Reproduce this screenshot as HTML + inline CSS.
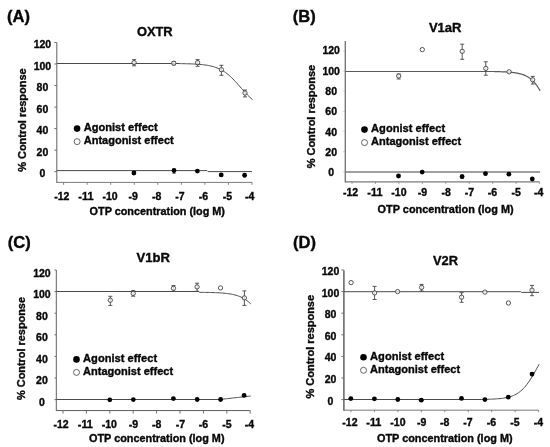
<!DOCTYPE html>
<html><head><meta charset="utf-8"><title>OTP concentration response</title>
<style>
html,body{margin:0;padding:0;background:#fff}
svg{display:block}
text{font-family:"Liberation Sans",Arial,sans-serif;font-weight:bold;fill:#0a0a0a;stroke:#000;stroke-width:0.35px}
.t{font-size:10.7px}
.a{font-size:10.9px}
.y{font-size:10.85px}
.l{font-size:11.1px}
.h{font-size:13px}
.p{font-size:16.2px}
svg{filter:blur(0.35px)}
</style></head><body>
<svg width="550" height="447" viewBox="0 0 550 447">
<rect width="550" height="447" fill="#fff"/>
<path d="M56.80 42.50V182.88" fill="none" stroke="#6e6e6e" stroke-width="1.1"/>
<path d="M56.80 182.40H252.00" fill="none" stroke="#747474" stroke-width="0.95"/>
<path d="M54.30 171.70H56.80M54.30 150.16H56.80M54.30 128.62H56.80M54.30 107.08H56.80M54.30 85.54H56.80M54.30 64.00H56.80M54.30 42.46H56.80" stroke="#6e6e6e" stroke-width="1" opacity="1"/>
<path d="M63.60 182.40v2.4M87.15 182.40v2.4M110.70 182.40v2.4M134.25 182.40v2.4M157.80 182.40v2.4M181.35 182.40v2.4M204.90 182.40v2.4M228.45 182.40v2.4M252.00 182.40v2.4" stroke="#6e6e6e" stroke-width="1" opacity="0.85"/>
<text x="42.40" y="177.35" text-anchor="middle" class="t" textLength="5.85" lengthAdjust="spacingAndGlyphs">0</text>
<text x="42.40" y="155.82" text-anchor="middle" class="t" textLength="11.70" lengthAdjust="spacingAndGlyphs">20</text>
<text x="42.40" y="134.28" text-anchor="middle" class="t" textLength="11.70" lengthAdjust="spacingAndGlyphs">40</text>
<text x="42.40" y="112.75" text-anchor="middle" class="t" textLength="11.70" lengthAdjust="spacingAndGlyphs">60</text>
<text x="42.40" y="91.22" text-anchor="middle" class="t" textLength="11.70" lengthAdjust="spacingAndGlyphs">80</text>
<text x="42.40" y="69.68" text-anchor="middle" class="t" textLength="17.55" lengthAdjust="spacingAndGlyphs">100</text>
<text x="42.40" y="48.15" text-anchor="middle" class="t" textLength="17.55" lengthAdjust="spacingAndGlyphs">120</text>
<text x="61.80" y="199.80" text-anchor="middle" class="t" textLength="15.21" lengthAdjust="spacingAndGlyphs">-12</text>
<text x="85.95" y="199.80" text-anchor="middle" class="t" textLength="15.21" lengthAdjust="spacingAndGlyphs">-11</text>
<text x="110.00" y="199.80" text-anchor="middle" class="t" textLength="15.21" lengthAdjust="spacingAndGlyphs">-10</text>
<text x="133.15" y="199.80" text-anchor="middle" class="t" textLength="9.36" lengthAdjust="spacingAndGlyphs">-9</text>
<text x="156.60" y="199.80" text-anchor="middle" class="t" textLength="9.36" lengthAdjust="spacingAndGlyphs">-8</text>
<text x="180.05" y="199.80" text-anchor="middle" class="t" textLength="9.36" lengthAdjust="spacingAndGlyphs">-7</text>
<text x="203.50" y="199.80" text-anchor="middle" class="t" textLength="9.36" lengthAdjust="spacingAndGlyphs">-6</text>
<text x="227.45" y="199.80" text-anchor="middle" class="t" textLength="9.36" lengthAdjust="spacingAndGlyphs">-5</text>
<text x="249.60" y="199.80" text-anchor="middle" class="t" textLength="9.36" lengthAdjust="spacingAndGlyphs">-4</text>
<text x="89.60" y="214.50" class="a" textLength="135.4" lengthAdjust="spacingAndGlyphs">OTP concentration (log M)</text>
<text transform="translate(26.00 171.80) rotate(-90)" class="y" textLength="103.4" lengthAdjust="spacingAndGlyphs">% Control response</text>
<text x="7.00" y="21.80" class="p" textLength="23" lengthAdjust="spacingAndGlyphs">(A)</text>
<text x="154.80" y="36.40" text-anchor="middle" class="h" textLength="35.8" lengthAdjust="spacingAndGlyphs">OXTR</text>
<circle cx="77.10" cy="128.60" r="3.3" fill="#000"/>
<circle cx="77.10" cy="141.60" r="3" fill="#fff" stroke="#555" stroke-width="0.9"/>
<text x="83.70" y="131.10" class="l" textLength="74" lengthAdjust="spacingAndGlyphs">Agonist effect</text>
<text x="83.70" y="144.10" class="l" textLength="90" lengthAdjust="spacingAndGlyphs">Antagonist effect</text>
<path d="M56.80 63.50 L179.11 63.50 L180.34 63.63 L181.56 63.65 L182.78 63.67 L184.00 63.69 L185.23 63.72 L186.45 63.74 L187.67 63.77 L188.90 63.81 L190.12 63.85 L191.34 63.89 L192.57 63.94 L193.79 64.00 L195.01 64.06 L196.24 64.13 L197.46 64.21 L198.68 64.29 L199.91 64.39 L201.13 64.51 L202.35 64.63 L203.57 64.77 L204.80 64.93 L206.02 65.10 L207.24 65.30 L208.47 65.51 L209.69 65.76 L210.91 66.03 L212.14 66.33 L213.36 66.67 L214.58 67.04 L215.81 67.45 L217.03 67.91 L218.25 68.41 L219.48 68.96 L220.70 69.56 L221.92 70.22 L223.14 70.94 L224.37 71.72 L225.59 72.56 L226.81 73.47 L228.04 74.44 L229.26 75.47 L230.48 76.57 L231.71 77.73 L232.93 78.94 L234.15 80.21 L235.38 81.52 L236.60 82.86 L237.82 84.23 L239.05 85.63 L240.27 87.03 L241.49 88.43 L242.71 89.82 L243.94 91.19 L245.16 92.54 L246.38 93.84 L247.61 95.10 L248.83 96.31 L250.05 97.47 L251.28 98.56 L252.50 99.59" fill="none" stroke="#4a4a4a" stroke-width="1" stroke-linejoin="round"/>
<path d="M56.70 170.60 L207.00 170.60 L208.00 171.60 L252.00 171.60" fill="none" stroke="#4a4a4a" stroke-width="1" stroke-linejoin="round"/>
<path d="M134.10 59.60V65.80M132.10 59.60h4M132.10 65.80h4" fill="none" stroke="#454545" stroke-width="0.9"/>
<circle cx="134.10" cy="62.60" r="2.15" fill="#fff" fill-opacity="0.75" stroke="#444" stroke-width="0.9"/>
<path d="M173.80 61.60V64.80M171.80 61.60h4M171.80 64.80h4" fill="none" stroke="#454545" stroke-width="0.9"/>
<circle cx="173.80" cy="63.20" r="2.15" fill="#fff" fill-opacity="0.75" stroke="#444" stroke-width="0.9"/>
<path d="M197.60 59.60V66.30M195.60 59.60h4M195.60 66.30h4" fill="none" stroke="#454545" stroke-width="0.9"/>
<circle cx="197.60" cy="62.60" r="2.15" fill="#fff" fill-opacity="0.75" stroke="#444" stroke-width="0.9"/>
<path d="M221.40 65.30V75.30M219.40 65.30h4M219.40 75.30h4" fill="none" stroke="#454545" stroke-width="0.9"/>
<circle cx="221.40" cy="69.70" r="2.15" fill="#fff" fill-opacity="0.75" stroke="#444" stroke-width="0.9"/>
<path d="M245.00 90.00V96.90M243.00 90.00h4M243.00 96.90h4" fill="none" stroke="#454545" stroke-width="0.9"/>
<circle cx="245.00" cy="93.00" r="2.15" fill="#fff" fill-opacity="0.75" stroke="#444" stroke-width="0.9"/>
<path d="M133.90 171.50V174.50M132.30 171.50h3.2M132.30 174.50h3.2" fill="none" stroke="#111" stroke-width="0.8"/>
<circle cx="133.90" cy="173.00" r="2.4" fill="#000"/>
<path d="M174.00 169.60V173.20M172.40 169.60h3.2M172.40 173.20h3.2" fill="none" stroke="#111" stroke-width="0.8"/>
<circle cx="174.00" cy="170.50" r="2.4" fill="#000"/>
<circle cx="197.40" cy="171.10" r="2.4" fill="#000"/>
<circle cx="221.20" cy="174.90" r="2.4" fill="#000"/>
<path d="M244.60 173.50V177.00M243.00 173.50h3.2M243.00 177.00h3.2" fill="none" stroke="#111" stroke-width="0.8"/>
<circle cx="244.60" cy="175.20" r="2.4" fill="#000"/>
<path d="M345.30 41.00V182.60" fill="none" stroke="#7a7a7a" stroke-width="1.4"/>
<path d="M345.30 181.90H539.60" fill="none" stroke="#7a7a7a" stroke-width="1.4"/>
<path d="M342.80 171.70H345.30M342.80 151.59H345.30M342.80 131.48H345.30M342.80 111.37H345.30M342.80 91.26H345.30M342.80 71.15H345.30M342.80 51.04H345.30" stroke="#6e6e6e" stroke-width="1" opacity="0.25"/>
<path d="M352.00 181.90v2.2M375.45 181.90v2.2M398.90 181.90v2.2M422.35 181.90v2.2M445.80 181.90v2.2M469.25 181.90v2.2M492.70 181.90v2.2M516.15 181.90v2.2M539.60 181.90v2.2" stroke="#6e6e6e" stroke-width="1" opacity="0.6"/>
<text x="331.20" y="176.05" text-anchor="middle" class="t" textLength="5.85" lengthAdjust="spacingAndGlyphs">0</text>
<text x="331.20" y="155.78" text-anchor="middle" class="t" textLength="11.70" lengthAdjust="spacingAndGlyphs">20</text>
<text x="331.20" y="135.52" text-anchor="middle" class="t" textLength="11.70" lengthAdjust="spacingAndGlyphs">40</text>
<text x="331.20" y="115.25" text-anchor="middle" class="t" textLength="11.70" lengthAdjust="spacingAndGlyphs">60</text>
<text x="331.20" y="94.98" text-anchor="middle" class="t" textLength="11.70" lengthAdjust="spacingAndGlyphs">80</text>
<text x="331.20" y="74.72" text-anchor="middle" class="t" textLength="17.55" lengthAdjust="spacingAndGlyphs">100</text>
<text x="331.20" y="54.45" text-anchor="middle" class="t" textLength="17.55" lengthAdjust="spacingAndGlyphs">120</text>
<text x="350.60" y="195.90" text-anchor="middle" class="t" textLength="15.21" lengthAdjust="spacingAndGlyphs">-12</text>
<text x="374.95" y="195.90" text-anchor="middle" class="t" textLength="15.21" lengthAdjust="spacingAndGlyphs">-11</text>
<text x="398.90" y="195.90" text-anchor="middle" class="t" textLength="15.21" lengthAdjust="spacingAndGlyphs">-10</text>
<text x="422.35" y="195.90" text-anchor="middle" class="t" textLength="9.36" lengthAdjust="spacingAndGlyphs">-9</text>
<text x="446.20" y="195.90" text-anchor="middle" class="t" textLength="9.36" lengthAdjust="spacingAndGlyphs">-8</text>
<text x="469.45" y="195.90" text-anchor="middle" class="t" textLength="9.36" lengthAdjust="spacingAndGlyphs">-7</text>
<text x="492.40" y="195.90" text-anchor="middle" class="t" textLength="9.36" lengthAdjust="spacingAndGlyphs">-6</text>
<text x="516.25" y="195.90" text-anchor="middle" class="t" textLength="9.36" lengthAdjust="spacingAndGlyphs">-5</text>
<text x="538.80" y="195.90" text-anchor="middle" class="t" textLength="9.36" lengthAdjust="spacingAndGlyphs">-4</text>
<text x="377.60" y="212.70" class="a" textLength="136" lengthAdjust="spacingAndGlyphs">OTP concentration (log M)</text>
<text transform="translate(314.90 168.30) rotate(-90)" class="y" textLength="103.4" lengthAdjust="spacingAndGlyphs">% Control response</text>
<text x="292.70" y="21.80" class="p" textLength="23" lengthAdjust="spacingAndGlyphs">(B)</text>
<text x="445.20" y="32.10" text-anchor="middle" class="h" textLength="32.6" lengthAdjust="spacingAndGlyphs">V1aR</text>
<circle cx="364.50" cy="129.60" r="3.3" fill="#000"/>
<circle cx="364.50" cy="142.60" r="3" fill="#fff" stroke="#555" stroke-width="0.9"/>
<text x="371.10" y="132.10" class="l" textLength="74" lengthAdjust="spacingAndGlyphs">Agonist effect</text>
<text x="371.10" y="145.10" class="l" textLength="90" lengthAdjust="spacingAndGlyphs">Antagonist effect</text>
<path d="M345.30 71.50 L493.84 71.50 L495.05 71.62 L496.27 71.64 L497.49 71.66 L498.71 71.69 L499.92 71.72 L501.14 71.75 L502.36 71.79 L503.58 71.83 L504.79 71.89 L506.01 71.94 L507.23 72.01 L508.45 72.09 L509.66 72.18 L510.88 72.28 L512.10 72.40 L513.32 72.54 L514.53 72.69 L515.75 72.87 L516.97 73.08 L518.19 73.32 L519.40 73.59 L520.62 73.90 L521.84 74.26 L523.06 74.67 L524.27 75.13 L525.49 75.67 L526.71 76.27 L527.92 76.96 L529.14 77.75 L530.36 78.63 L531.58 79.63 L532.80 80.76 L534.01 82.03 L535.23 83.45 L536.45 85.03 L537.66 86.78 L538.88 88.72 L540.10 90.84" fill="none" stroke="#5a5a5a" stroke-width="1.2" stroke-linejoin="round"/>
<path d="M345.30 172.00 L540.00 172.00" fill="none" stroke="#808080" stroke-width="1.4" stroke-linejoin="round"/>
<path d="M398.70 74.00V79.00M396.70 74.00h4M396.70 79.00h4" fill="none" stroke="#454545" stroke-width="0.9"/>
<circle cx="398.70" cy="76.00" r="2.15" fill="#fff" fill-opacity="0.75" stroke="#444" stroke-width="0.9"/>
<circle cx="422.30" cy="49.60" r="2.15" fill="#fff" fill-opacity="0.75" stroke="#444" stroke-width="0.9"/>
<path d="M462.20 44.20V59.30M460.20 44.20h4M460.20 59.30h4" fill="none" stroke="#454545" stroke-width="0.9"/>
<circle cx="462.20" cy="51.30" r="2.15" fill="#fff" fill-opacity="0.75" stroke="#444" stroke-width="0.9"/>
<path d="M485.80 61.80V75.20M483.80 61.80h4M483.80 75.20h4" fill="none" stroke="#454545" stroke-width="0.9"/>
<circle cx="485.80" cy="68.40" r="2.15" fill="#fff" fill-opacity="0.75" stroke="#444" stroke-width="0.9"/>
<circle cx="509.10" cy="71.80" r="2.15" fill="#fff" fill-opacity="0.75" stroke="#444" stroke-width="0.9"/>
<path d="M532.70 76.40V84.00M530.70 76.40h4M530.70 84.00h4" fill="none" stroke="#454545" stroke-width="0.9"/>
<circle cx="532.70" cy="79.80" r="2.15" fill="#fff" fill-opacity="0.75" stroke="#444" stroke-width="0.9"/>
<path d="M398.50 175.00V177.00M396.90 175.00h3.2M396.90 177.00h3.2" fill="none" stroke="#111" stroke-width="0.8"/>
<circle cx="398.50" cy="176.00" r="2.4" fill="#000"/>
<circle cx="422.20" cy="172.10" r="2.4" fill="#000"/>
<path d="M462.10 175.00V178.50M460.50 175.00h3.2M460.50 178.50h3.2" fill="none" stroke="#111" stroke-width="0.8"/>
<circle cx="462.10" cy="176.60" r="2.4" fill="#000"/>
<path d="M485.50 172.50V175.00M483.90 172.50h3.2M483.90 175.00h3.2" fill="none" stroke="#111" stroke-width="0.8"/>
<circle cx="485.50" cy="173.60" r="2.4" fill="#000"/>
<circle cx="508.90" cy="174.20" r="2.4" fill="#000"/>
<circle cx="532.30" cy="179.00" r="2.4" fill="#000"/>
<path d="M56.30 270.00V411.05" fill="none" stroke="#5e5e5e" stroke-width="1.0"/>
<path d="M56.30 410.55H250.20" fill="none" stroke="#5e5e5e" stroke-width="1.0"/>
<path d="M54.50 399.60H56.30M54.50 378.00H56.30M54.50 356.40H56.30M54.50 334.80H56.30M54.50 313.20H56.30M54.50 291.60H56.30M54.50 270.00H56.30" stroke="#6e6e6e" stroke-width="1" opacity="1"/>
<path d="M63.00 410.55v3M86.40 410.55v3M109.80 410.55v3M133.20 410.55v3M156.60 410.55v3M180.00 410.55v3M203.40 410.55v3M226.80 410.55v3M250.20 410.55v3" stroke="#6e6e6e" stroke-width="1" opacity="1"/>
<text x="41.90" y="405.85" text-anchor="middle" class="t" textLength="5.85" lengthAdjust="spacingAndGlyphs">0</text>
<text x="41.90" y="384.35" text-anchor="middle" class="t" textLength="11.70" lengthAdjust="spacingAndGlyphs">20</text>
<text x="41.90" y="362.85" text-anchor="middle" class="t" textLength="11.70" lengthAdjust="spacingAndGlyphs">40</text>
<text x="41.90" y="341.35" text-anchor="middle" class="t" textLength="11.70" lengthAdjust="spacingAndGlyphs">60</text>
<text x="41.90" y="319.85" text-anchor="middle" class="t" textLength="11.70" lengthAdjust="spacingAndGlyphs">80</text>
<text x="41.90" y="298.35" text-anchor="middle" class="t" textLength="17.55" lengthAdjust="spacingAndGlyphs">100</text>
<text x="41.90" y="276.85" text-anchor="middle" class="t" textLength="17.55" lengthAdjust="spacingAndGlyphs">120</text>
<text x="61.00" y="427.50" text-anchor="middle" class="t" textLength="15.21" lengthAdjust="spacingAndGlyphs">-12</text>
<text x="85.35" y="427.50" text-anchor="middle" class="t" textLength="15.21" lengthAdjust="spacingAndGlyphs">-11</text>
<text x="109.30" y="427.50" text-anchor="middle" class="t" textLength="15.21" lengthAdjust="spacingAndGlyphs">-10</text>
<text x="133.45" y="427.50" text-anchor="middle" class="t" textLength="9.36" lengthAdjust="spacingAndGlyphs">-9</text>
<text x="156.70" y="427.50" text-anchor="middle" class="t" textLength="9.36" lengthAdjust="spacingAndGlyphs">-8</text>
<text x="180.35" y="427.50" text-anchor="middle" class="t" textLength="9.36" lengthAdjust="spacingAndGlyphs">-7</text>
<text x="203.40" y="427.50" text-anchor="middle" class="t" textLength="9.36" lengthAdjust="spacingAndGlyphs">-6</text>
<text x="227.05" y="427.50" text-anchor="middle" class="t" textLength="9.36" lengthAdjust="spacingAndGlyphs">-5</text>
<text x="249.50" y="427.50" text-anchor="middle" class="t" textLength="9.36" lengthAdjust="spacingAndGlyphs">-4</text>
<text x="89.00" y="441.50" class="a" textLength="135.5" lengthAdjust="spacingAndGlyphs">OTP concentration (log M)</text>
<text transform="translate(24.90 399.90) rotate(-90)" class="y" textLength="102.9" lengthAdjust="spacingAndGlyphs">% Control response</text>
<text x="7.70" y="248.00" class="p" textLength="23" lengthAdjust="spacingAndGlyphs">(C)</text>
<text x="153.20" y="262.20" text-anchor="middle" class="h" textLength="33.4" lengthAdjust="spacingAndGlyphs">V1bR</text>
<circle cx="76.50" cy="359.40" r="3.3" fill="#000"/>
<circle cx="76.50" cy="372.40" r="3" fill="#fff" stroke="#555" stroke-width="0.9"/>
<text x="83.10" y="361.90" class="l" textLength="74" lengthAdjust="spacingAndGlyphs">Agonist effect</text>
<text x="83.10" y="374.90" class="l" textLength="90" lengthAdjust="spacingAndGlyphs">Antagonist effect</text>
<path d="M56.30 291.50 L198.45 291.50 L199.67 292.34 L200.88 292.35 L202.10 292.37 L203.31 292.38 L204.53 292.39 L205.75 292.41 L206.96 292.43 L208.17 292.45 L209.39 292.48 L210.60 292.51 L211.82 292.54 L213.03 292.58 L214.25 292.62 L215.46 292.66 L216.68 292.71 L217.89 292.77 L219.11 292.84 L220.32 292.91 L221.54 292.99 L222.75 293.08 L223.97 293.19 L225.19 293.31 L226.40 293.44 L227.62 293.59 L228.83 293.75 L230.04 293.94 L231.26 294.15 L232.47 294.39 L233.69 294.65 L234.90 294.95 L236.12 295.28 L237.33 295.65 L238.55 296.07 L239.76 296.53 L240.98 297.05 L242.19 297.63 L243.41 298.27 L244.62 298.99 L245.84 299.78 L247.05 300.67 L248.27 301.64 L249.48 302.72 L250.70 303.90" fill="none" stroke="#4a4a4a" stroke-width="1" stroke-linejoin="round"/>
<path d="M56.30 399.50 L220.32 399.50 L221.54 399.30 L222.75 399.16 L223.97 399.02 L225.19 398.89 L226.40 398.75 L227.62 398.61 L228.83 398.47 L230.04 398.33 L231.26 398.20 L232.47 398.06 L233.69 397.92 L234.90 397.78 L236.12 397.64 L237.33 397.51 L238.55 397.37 L239.76 397.23 L240.98 397.09 L242.19 396.95 L243.41 396.82 L244.62 396.68 L245.84 396.54 L247.05 396.40 L248.27 396.26 L249.48 396.13 L250.70 395.99" fill="none" stroke="#4a4a4a" stroke-width="1" stroke-linejoin="round"/>
<path d="M110.30 296.30V305.40M108.30 296.30h4M108.30 305.40h4" fill="none" stroke="#454545" stroke-width="0.9"/>
<circle cx="110.30" cy="300.20" r="2.15" fill="#fff" fill-opacity="0.75" stroke="#444" stroke-width="0.9"/>
<path d="M133.20 290.60V296.20M131.20 290.60h4M131.20 296.20h4" fill="none" stroke="#454545" stroke-width="0.9"/>
<circle cx="133.20" cy="293.40" r="2.15" fill="#fff" fill-opacity="0.75" stroke="#444" stroke-width="0.9"/>
<path d="M173.50 285.60V291.30M171.50 285.60h4M171.50 291.30h4" fill="none" stroke="#454545" stroke-width="0.9"/>
<circle cx="173.50" cy="288.30" r="2.15" fill="#fff" fill-opacity="0.75" stroke="#444" stroke-width="0.9"/>
<path d="M197.10 283.20V291.30M195.10 283.20h4M195.10 291.30h4" fill="none" stroke="#454545" stroke-width="0.9"/>
<circle cx="197.10" cy="286.90" r="2.15" fill="#fff" fill-opacity="0.75" stroke="#444" stroke-width="0.9"/>
<circle cx="220.50" cy="287.90" r="2.15" fill="#fff" fill-opacity="0.75" stroke="#444" stroke-width="0.9"/>
<path d="M244.40 290.90V305.40M242.40 290.90h4M242.40 305.40h4" fill="none" stroke="#454545" stroke-width="0.9"/>
<circle cx="244.40" cy="297.90" r="2.15" fill="#fff" fill-opacity="0.75" stroke="#444" stroke-width="0.9"/>
<circle cx="109.80" cy="399.80" r="2.4" fill="#000"/>
<circle cx="133.30" cy="399.60" r="2.4" fill="#000"/>
<circle cx="173.40" cy="398.60" r="2.4" fill="#000"/>
<circle cx="197.20" cy="399.50" r="2.4" fill="#000"/>
<circle cx="220.60" cy="399.50" r="2.4" fill="#000"/>
<circle cx="244.10" cy="395.40" r="2.4" fill="#000"/>
<path d="M343.90 270.30V410.70" fill="none" stroke="#606060" stroke-width="1.5"/>
<path d="M343.90 410.20H538.60" fill="none" stroke="#777" stroke-width="1.0"/>
<path d="M341.40 399.60H343.90M341.40 378.00H343.90M341.40 356.40H343.90M341.40 334.80H343.90M341.40 313.20H343.90M341.40 291.60H343.90M341.40 270.00H343.90" stroke="#6e6e6e" stroke-width="1" opacity="1"/>
<path d="M351.00 410.20v2.0M374.45 410.20v2.0M397.90 410.20v2.0M421.35 410.20v2.0M444.80 410.20v2.0M468.25 410.20v2.0M491.70 410.20v2.0M515.15 410.20v2.0M538.60 410.20v2.0" stroke="#6e6e6e" stroke-width="1" opacity="0.8"/>
<text x="330.50" y="404.55" text-anchor="middle" class="t" textLength="5.85" lengthAdjust="spacingAndGlyphs">0</text>
<text x="330.50" y="382.97" text-anchor="middle" class="t" textLength="11.70" lengthAdjust="spacingAndGlyphs">20</text>
<text x="330.50" y="361.38" text-anchor="middle" class="t" textLength="11.70" lengthAdjust="spacingAndGlyphs">40</text>
<text x="330.50" y="339.80" text-anchor="middle" class="t" textLength="11.70" lengthAdjust="spacingAndGlyphs">60</text>
<text x="330.50" y="318.22" text-anchor="middle" class="t" textLength="11.70" lengthAdjust="spacingAndGlyphs">80</text>
<text x="330.50" y="296.63" text-anchor="middle" class="t" textLength="17.55" lengthAdjust="spacingAndGlyphs">100</text>
<text x="330.50" y="275.05" text-anchor="middle" class="t" textLength="17.55" lengthAdjust="spacingAndGlyphs">120</text>
<text x="349.90" y="426.10" text-anchor="middle" class="t" textLength="15.21" lengthAdjust="spacingAndGlyphs">-12</text>
<text x="373.85" y="426.10" text-anchor="middle" class="t" textLength="15.21" lengthAdjust="spacingAndGlyphs">-11</text>
<text x="397.90" y="426.10" text-anchor="middle" class="t" textLength="15.21" lengthAdjust="spacingAndGlyphs">-10</text>
<text x="421.75" y="426.10" text-anchor="middle" class="t" textLength="9.36" lengthAdjust="spacingAndGlyphs">-9</text>
<text x="444.60" y="426.10" text-anchor="middle" class="t" textLength="9.36" lengthAdjust="spacingAndGlyphs">-8</text>
<text x="468.05" y="426.10" text-anchor="middle" class="t" textLength="9.36" lengthAdjust="spacingAndGlyphs">-7</text>
<text x="491.50" y="426.10" text-anchor="middle" class="t" textLength="9.36" lengthAdjust="spacingAndGlyphs">-6</text>
<text x="514.95" y="426.10" text-anchor="middle" class="t" textLength="9.36" lengthAdjust="spacingAndGlyphs">-5</text>
<text x="538.40" y="426.10" text-anchor="middle" class="t" textLength="9.36" lengthAdjust="spacingAndGlyphs">-4</text>
<text x="377.00" y="441.50" class="a" textLength="135.6" lengthAdjust="spacingAndGlyphs">OTP concentration (log M)</text>
<text transform="translate(313.90 398.40) rotate(-90)" class="y" textLength="103.4" lengthAdjust="spacingAndGlyphs">% Control response</text>
<text x="293.10" y="248.30" class="p" textLength="23" lengthAdjust="spacingAndGlyphs">(D)</text>
<text x="445.50" y="265.10" text-anchor="middle" class="h" textLength="25" lengthAdjust="spacingAndGlyphs">V2R</text>
<circle cx="363.50" cy="357.30" r="3.3" fill="#000"/>
<circle cx="363.50" cy="370.30" r="3" fill="#fff" stroke="#555" stroke-width="0.9"/>
<text x="370.10" y="359.80" class="l" textLength="74" lengthAdjust="spacingAndGlyphs">Agonist effect</text>
<text x="370.10" y="372.80" class="l" textLength="90" lengthAdjust="spacingAndGlyphs">Antagonist effect</text>
<path d="M343.90 291.70 L520.60 291.70 L521.50 292.40 L539.00 292.40" fill="none" stroke="#4a4a4a" stroke-width="1" stroke-linejoin="round"/>
<path d="M343.90 399.50 L481.76 399.50 L482.98 399.36 L484.20 399.34 L485.42 399.32 L486.64 399.29 L487.86 399.26 L489.08 399.23 L490.30 399.19 L491.52 399.14 L492.74 399.09 L493.96 399.03 L495.18 398.96 L496.40 398.88 L497.62 398.79 L498.84 398.68 L500.06 398.57 L501.28 398.43 L502.50 398.27 L503.72 398.10 L504.94 397.90 L506.16 397.67 L507.38 397.40 L508.60 397.11 L509.82 396.77 L511.04 396.38 L512.26 395.95 L513.48 395.46 L514.70 394.90 L515.92 394.28 L517.14 393.58 L518.36 392.79 L519.58 391.92 L520.80 390.95 L522.02 389.87 L523.24 388.69 L524.46 387.39 L525.68 385.98 L526.90 384.45 L528.12 382.80 L529.34 381.04 L530.56 379.17 L531.78 377.21 L533.00 375.16 L534.22 373.04 L535.44 370.86 L536.66 368.66 L537.88 366.44 L539.10 364.23" fill="none" stroke="#4a4a4a" stroke-width="1" stroke-linejoin="round"/>
<circle cx="351.10" cy="282.60" r="2.15" fill="#fff" fill-opacity="0.75" stroke="#444" stroke-width="0.9"/>
<path d="M374.60 286.40V299.50M372.60 286.40h4M372.60 299.50h4" fill="none" stroke="#454545" stroke-width="0.9"/>
<circle cx="374.60" cy="292.90" r="2.15" fill="#fff" fill-opacity="0.75" stroke="#444" stroke-width="0.9"/>
<circle cx="397.60" cy="291.60" r="2.15" fill="#fff" fill-opacity="0.75" stroke="#444" stroke-width="0.9"/>
<path d="M421.60 284.40V291.00M419.60 284.40h4M419.60 291.00h4" fill="none" stroke="#454545" stroke-width="0.9"/>
<circle cx="421.60" cy="287.40" r="2.15" fill="#fff" fill-opacity="0.75" stroke="#444" stroke-width="0.9"/>
<path d="M461.60 292.70V302.30M459.60 292.70h4M459.60 302.30h4" fill="none" stroke="#454545" stroke-width="0.9"/>
<circle cx="461.60" cy="297.20" r="2.15" fill="#fff" fill-opacity="0.75" stroke="#444" stroke-width="0.9"/>
<circle cx="484.90" cy="292.10" r="2.15" fill="#fff" fill-opacity="0.75" stroke="#444" stroke-width="0.9"/>
<circle cx="508.40" cy="303.00" r="2.15" fill="#fff" fill-opacity="0.75" stroke="#444" stroke-width="0.9"/>
<path d="M532.00 285.40V295.70M530.00 285.40h4M530.00 295.70h4" fill="none" stroke="#454545" stroke-width="0.9"/>
<circle cx="532.00" cy="290.20" r="2.15" fill="#fff" fill-opacity="0.75" stroke="#444" stroke-width="0.9"/>
<circle cx="350.80" cy="398.60" r="2.4" fill="#000"/>
<circle cx="374.40" cy="398.80" r="2.4" fill="#000"/>
<circle cx="397.80" cy="399.50" r="2.4" fill="#000"/>
<circle cx="421.30" cy="400.20" r="2.4" fill="#000"/>
<circle cx="461.50" cy="398.40" r="2.4" fill="#000"/>
<circle cx="484.90" cy="399.60" r="2.4" fill="#000"/>
<circle cx="508.30" cy="397.20" r="2.4" fill="#000"/>
<path d="M532.00 372.50V375.70M530.40 372.50h3.2M530.40 375.70h3.2" fill="none" stroke="#111" stroke-width="0.8"/>
<circle cx="532.00" cy="374.10" r="2.4" fill="#000"/>
</svg>
</body></html>
